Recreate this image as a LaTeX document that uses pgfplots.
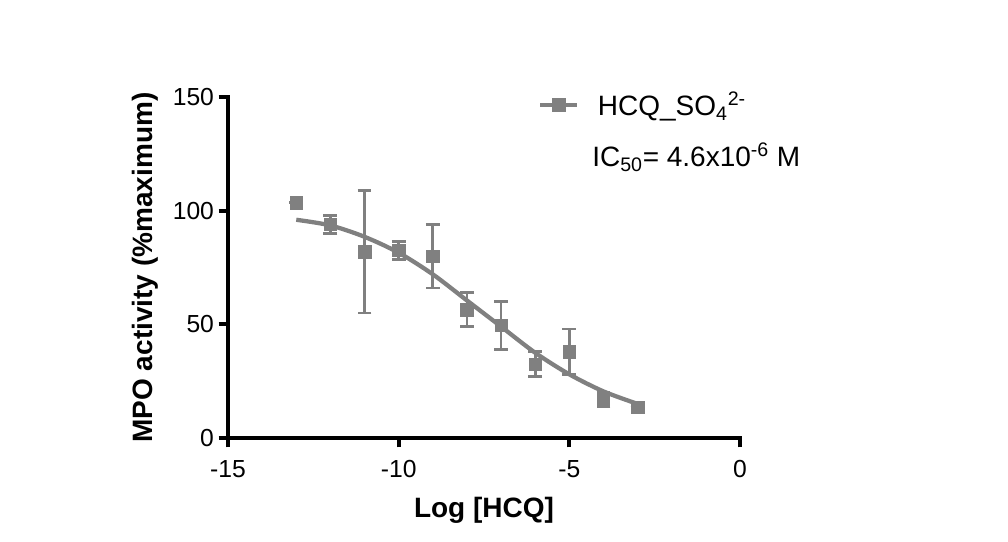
\documentclass[border=0pt]{standalone}
\usepackage{fontspec}
\setmainfont{Liberation Sans}
\usepackage{pgfplots}
\usepackage{pgfplotstable}
\pgfplotsset{compat=1.18}
\definecolor{ser}{RGB}{128,128,128}
\pgfplotstableread{
x y err
-13 103.5 0
-12 94 4
-11 82 27
-10 82.5 4
-9 80 14
-8 56.5 7.5
-7 49.5 10.5
-6 32.5 5.5
-5 38 10
-4 17 3
-3 13.5 0
}\pts
\pgfplotstableread{
x y
-13 96
-12 93.5
-11 88.5
-10 81.5
-9 72
-8 60.5
-7 49
-6 37.5
-5 28
-4 20.5
-3 15
}\fit
\begin{document}
\begin{tikzpicture}
\useasboundingbox (-171pt,-78pt) rectangle (585pt,328.5pt);
\begin{axis}[
  at={(0,0)}, anchor=south west,
  width=384pt, height=255.75pt, scale only axis,
  xmin=-15, xmax=0, ymin=0, ymax=150,
  axis x line=bottom, axis y line=left,
  axis line style={-, line width=3pt, line cap=rect},
  xtick={-15,-10,-5,0}, ytick={0,50,100,150},
  xtick align=outside, ytick align=outside,
  major tick length=7pt,
  every tick/.style={line width=3pt, black},
  /pgf/number format/assume math mode=true,
  ticklabel style={font=\fontsize{18.5}{20}\selectfont},
  xticklabel style={yshift=-6pt},
  xlabel={\bfseries Log [HCQ]},
  ylabel={\bfseries MPO activity (\%maximum)},
  label style={font=\fontsize{21}{24}\selectfont},
  xlabel style={at={(axis description cs:0.5,-0.2346)}, anchor=base},
  ylabel style={at={(axis description cs:-0.1465,0.5)}, anchor=base},
  clip=false,
  legend style={at={(rel axis cs:0.6055,0.9765)}, anchor=west, draw=none, fill=none,
    inner sep=0pt, font=\fontsize{21}{24}\selectfont, nodes={inner sep=0pt},
    /tikz/every odd column/.style={column sep=14pt}},
]
\addplot[ser, line width=3.2pt, smooth, forget plot] table[x=x,y=y] {\fit};
\addplot[ser, only marks, mark=square*, mark size=4.7pt, mark options={ser, fill=ser}, forget plot,
  error bars/.cd, y dir=both, y explicit,
  error bar style={line width=2pt, ser},
  error mark options={rotate=90, mark size=5.2pt, line width=2pt, ser}]
  table[x=x,y=y,y error=err] {\pts};
\addlegendimage{ser, line width=3pt, mark=square*, mark size=3.8pt, mark options={fill=ser},
  legend image code/.code={\draw[mark repeat=2,mark phase=2] plot coordinates {(0pt,0pt)(13.875pt,0pt)(27.75pt,0pt)};}}
\addlegendentry{HCQ\_SO\textsubscript{4}\textsuperscript{2-}}
\node[anchor=base west, font=\fontsize{21}{24}\selectfont, inner sep=0pt] at (rel axis cs:0.711,0.795) {IC\textsubscript{50}= 4.6x10\textsuperscript{-6} M};
\end{axis}
\end{tikzpicture}
\end{document}
